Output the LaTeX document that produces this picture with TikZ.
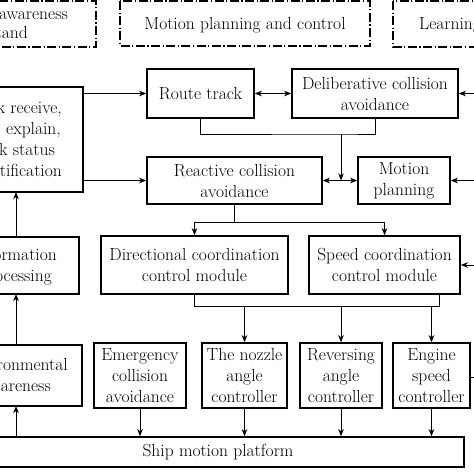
\documentclass[tikz,border=0pt]{standalone}
\usetikzlibrary{arrows.meta,calc}
\begin{document}
\begin{tikzpicture}[x=1pt,y=-1pt,
  font=\fontsize{17.5}{21}\selectfont,
  box/.style={draw, line width=1.6pt, inner sep=0pt, align=center},
  grp/.style={draw, line width=1.2pt, dash pattern=on 9pt off 2.5pt on 1.2pt off 2.5pt},
  conn/.style={line width=1pt, -{Stealth[length=7pt,width=5.5pt,inset=2pt]}},
  conn2/.style={line width=1pt, {Stealth[length=7pt,width=5.5pt,inset=2pt]}-{Stealth[length=7pt,width=5.5pt,inset=2pt]}},
  line/.style={line width=1pt},
  frag/.style={anchor=base east, inner sep=0pt},
  fragw/.style={anchor=base west, inner sep=0pt}]
\useasboundingbox (0,0) rectangle (474,474);
\clip (0,0) rectangle (474,474);
\fill[white] (0,0) rectangle (474,474);

% top group boxes
\draw[grp] (-150,1) rectangle (96,47);
\draw[grp] (120,1) rectangle (370,46);
\draw[grp] (393,1) rectangle (560,47);
\node[frag] (ga1) at (68,19) {awareness};
\node[frag] (ga2) at (28,38) {tand};
\node[anchor=base, inner sep=0pt] (gb) at (245,29) {Motion planning and control};
\node[fragw] (gc) at (419,29) {Learning};

% left boxes (cropped)
\node[box, minimum width=183pt, minimum height=105pt] (task) at (-8.5,139.5) {};
\node[frag] (t1) at (62,113) {k receive,};
\node[frag] (t2) at (61,134) {explain,};
\node[frag] (t3) at (55,155) {k status};
\node[frag] (t4) at (62,176) {tification};

\node[box, minimum width=179pt, minimum height=57pt] (info) at (-10.5,265.5) {};
\node[frag] (i1) at (57,260) {ormation};
\node[frag] (i2) at (52,281) {ocessing};

\node[box, minimum width=182pt, minimum height=61pt] (env) at (-9,375.5) {};
\node[frag] (e1) at (68,370) {ronmental};
\node[frag] (e2) at (51,391) {areness};

% main boxes
\node[box, minimum width=107pt, minimum height=49pt] (route) at (200.5,93.5) {Route track};
\node[box, minimum width=166pt, minimum height=49pt] (delib) at (375,93.5) {Deliberative collision\\avoidance};
\node[box, minimum width=175pt, minimum height=47pt] (react) at (234.5,180.5) {Reactive collision\\avoidance};
\node[box, minimum width=92pt, minimum height=47pt] (motion) at (404,180.5) {Motion\\planning};
\node[box, minimum width=187pt, minimum height=58pt] (dir) at (194.5,265) {Directional coordination\\control module};
\node[box, minimum width=151pt, minimum height=58pt] (speed) at (384.5,265) {Speed coordination\\control module};
\node[box, minimum width=92pt, minimum height=65pt] (emer) at (140,375.5) {Emergency\\collision\\avoidance};
\node[box, minimum width=85pt, minimum height=65pt] (nozzle) at (244.5,375.5) {The nozzle\\angle\\controller};
\node[box, minimum width=82pt, minimum height=65pt] (rev) at (341,375.5) {Reversing\\angle\\controller};
\node[box, minimum width=77pt, minimum height=65pt] (engine) at (431.5,375.5) {Engine\\speed\\controller};
\node[box, minimum width=492pt, minimum height=30pt] (ship) at (218,452) {Ship motion platform};

% outside coordinates
\coordinate (rin1) at (480,93.5);
\coordinate (rin2) at (480,180.5);
\coordinate (rin3) at (480,265);
\coordinate (rout) at (480,377);
\coordinate (j1) at (341,134);
\coordinate (j2) at (235,222);
\coordinate (j3) at (194.5,306);
\coordinate (spo) at (439,294);

% connectors
\draw[conn] (task.east |- route.west) -- (route.west);
\draw[conn] (task.east |- react.west) -- (react.west);
\draw[conn2] (route.east) -- (delib.west);
\draw[conn] (rin1) -- (delib.east);
\draw[line] (route.south) |- (j1) -| (delib.south);
\draw[conn2] (react.east) -- (motion.west);
\draw[conn] (j1) -- (j1 |- react.east);
\draw[conn] (rin2) -- (motion.east);
\draw[line] (react.south) -- (react.south |- j2);
\draw[conn] (react.south |- j2) -| (dir.north);
\draw[conn] (react.south |- j2) -| (speed.north);
\draw[conn] (rin3) -- (speed.east);
\draw[line] (dir.south) -- (j3) -- (j3 -| spo) -- (spo);
\draw[conn] (j3 -| nozzle.north) -- (nozzle.north);
\draw[conn] (j3 -| rev.north) -- (rev.north);
\draw[conn] (j3 -| engine.north) -- (engine.north);
\draw[line] (engine.east |- rout) -- (rout);
\draw[conn] (emer.south) -- (emer.south |- ship.north);
\draw[conn] (nozzle.south) -- (nozzle.south |- ship.north);
\draw[conn] (rev.south) -- (rev.south |- ship.north);
\draw[conn] (engine.south) -- (engine.south |- ship.north);
\draw[conn] (16,437) -- (16,406);
\draw[conn] (16,345) -- (16,294);
\draw[conn] (16,237) -- (16,192);
\end{tikzpicture}
\end{document}
